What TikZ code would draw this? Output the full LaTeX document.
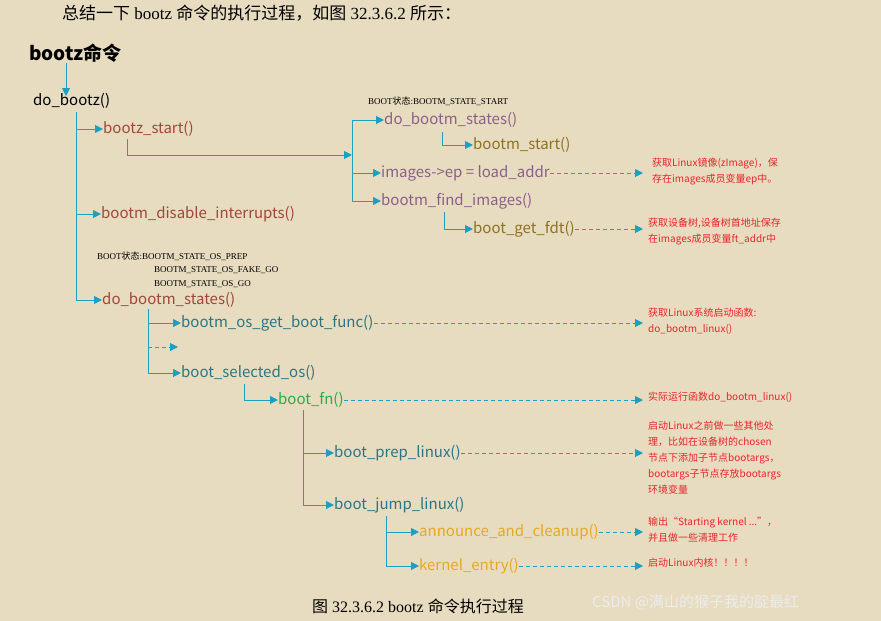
\documentclass[tikz,border=0pt]{standalone}
\usepackage{fontspec}
\usetikzlibrary{arrows.meta}
\setmainfont{Liberation Serif}
\newfontfamily\cjk{Noto Sans CJK SC}
\definecolor{cbg}{HTML}{E8DCC0}
\definecolor{cln}{HTML}{1AA0C2}
\definecolor{cbrn}{HTML}{A0463A}
\definecolor{cpur}{HTML}{8A6088}
\definecolor{colv}{HTML}{8B7322}
\definecolor{ctea}{HTML}{2A7585}
\definecolor{cgrn}{HTML}{2EA84A}
\definecolor{corg}{HTML}{E6A820}
\definecolor{cred}{HTML}{E8242A}
\tikzset{
 fn/.style={anchor=west,inner sep=0pt,font=\cjk\fontsize{15}{15}\selectfont},
 note/.style={anchor=north west,inner sep=0pt,align=left,text=cred,font=\cjk\fontsize{10}{16}\selectfont},
 st/.style={anchor=west,inner sep=0pt,align=left,font=\fontsize{9}{14}\selectfont},
 conn/.style={draw=cln,line width=1pt},
 arr/.style={conn,-{Triangle[length=8pt,width=8pt]}},
 darr/.style={arr,dash pattern=on 4pt off 3pt}
}
\begin{document}
\begin{tikzpicture}[x=1pt,y=-1pt]
\fill[cbg] (0,0) rectangle (881,621);
\useasboundingbox (0,0) rectangle (881,621);
\node[anchor=west,inner sep=0pt,font=\fontsize{17}{17}\selectfont] (title) at (62,13) {{\cjk 总结一下} bootz {\cjk 命令的执行过程，如图} 32.3.6.2 {\cjk 所示：}};
\node[anchor=west,inner sep=0pt,font=\cjk\bfseries\fontsize{19}{19}\selectfont] (cmd) at (29,53) {bootz命令};
\node[fn] (dobootz) at (33,101) {do\_bootz()};
\draw[arr] (66,63) -- (66,96);
\node[fn,text=cbrn] (bzs) at (103,129) {bootz\_start()};
\node[fn,text=cbrn] (bdi) at (101,214) {bootm\_disable\_interrupts()};
\node[fn,text=cbrn] (dbs2) at (102,300) {do\_bootm\_states()};
\coordinate (t1) at (76,112);
\draw[conn] (t1) -- (76,300);
\draw[arr] (76,129) -- (bzs.west);
\draw[arr] (76,214) -- (bdi.west);
\draw[arr] (76,300) -- (dbs2.west);
\node[st] (s1) at (368,101) {BOOT{\cjk 状态}:BOOTM\_STATE\_START};
\node[fn,text=cpur] (dbs1) at (384,120) {do\_bootm\_states()};
\node[fn,text=colv] (bms) at (473,145) {bootm\_start()};
\node[fn,text=cpur] (img) at (381,173) {images->ep = load\_addr};
\node[fn,text=cpur] (bfi) at (381,201) {bootm\_find\_images()};
\node[fn,text=colv] (bgf) at (473,229) {boot\_get\_fdt()};
\coordinate (j1) at (352,155);
\draw[arr] (127,139) |- (j1);
\draw[conn] (352,120) -- (352,201);
\draw[arr] (352,120) -- (dbs1.west);
\draw[arr] (352,173) -- (img.west);
\draw[arr] (352,201) -- (bfi.west);
\draw[arr] (442,132) |- (bms.west);
\draw[arr] (444,212) |- (bgf.west);
\node[note] (n1) at (652,158) {获取Linux镜像(zImage)，保\\存在images成员变量ep中。};
\node[note] (n2) at (648,218) {获取设备树,设备树首地址保存\\在images成员变量ft\_addr中};
\draw[darr] (img.east) -- (643,173);
\draw[darr] (bgf.east) -- (643,229);
\node[st] (s2) at (97,256) {BOOT{\cjk 状态}:BOOTM\_STATE\_OS\_PREP};
\node[st] (s3) at (154,270) {BOOTM\_STATE\_OS\_FAKE\_GO};
\node[st] (s4) at (154,284) {BOOTM\_STATE\_OS\_GO};
\node[fn,text=ctea] (bog) at (181,323) {bootm\_os\_get\_boot\_func()};
\node[fn,text=ctea] (bso) at (181,373) {boot\_selected\_os()};
\coordinate (dots) at (178,347);
\draw[conn] (148,309) -- (148,373);
\draw[arr] (148,323) -- (bog.west);
\draw[darr] (148,347) -- (dots);
\draw[arr] (148,373) -- (bso.west);
\node[fn,text=cgrn] (bfn) at (278,400) {boot\_fn()};
\draw[arr] (244,384) |- (bfn.west);
\node[fn,text=ctea] (bpl) at (334,453) {boot\_prep\_linux()};
\node[fn,text=ctea] (bjl) at (334,505) {boot\_jump\_linux()};
\draw[conn] (303,410) -- (303,505);
\draw[arr] (303,453) -- (bpl.west);
\draw[arr] (303,505) -- (bjl.west);
\node[fn,text=corg] (aac) at (419,532) {announce\_and\_cleanup()};
\node[fn,text=corg] (ke) at (419,566) {kernel\_entry()};
\draw[conn] (386,516) -- (386,566);
\draw[arr] (386,532) -- (aac.west);
\draw[arr] (386,566) -- (ke.west);
\node[note] (n3) at (648,308) {获取Linux系统启动函数:\\do\_bootm\_linux()};
\node[note] (n4) at (648,392) {实际运行函数do\_bootm\_linux()};
\node[note] (n5) at (648,421) {启动Linux之前做一些其他处\\理，比如在设备树的chosen\\节点下添加子节点bootargs，\\bootargs子节点存放bootargs\\环境变量};
\node[note] (n6) at (648,517) {输出“Starting kernel ...”，\\并且做一些清理工作};
\node[note] (n7) at (648,558) {启动Linux内核！！！！};
\draw[darr] (bog.east) -- (643,323);
\draw[darr] (bfn.east) -- (643,400);
\draw[darr] (bpl.east) -- (643,453);
\draw[darr] (aac.east) -- (643,532);
\draw[darr] (ke.east) -- (643,566);
\node[anchor=west,inner sep=0pt,font=\fontsize{16}{16}\selectfont] (cap) at (312,606) {{\cjk 图} 32.3.6.2 bootz {\cjk 命令执行过程}};
\node[anchor=west,inner sep=0pt,text=white!85!gray,font=\cjk\fontsize{15}{15}\selectfont] (wm) at (592,602) {CSDN @满山的猴子我的腚最红};
\end{tikzpicture}
\end{document}
